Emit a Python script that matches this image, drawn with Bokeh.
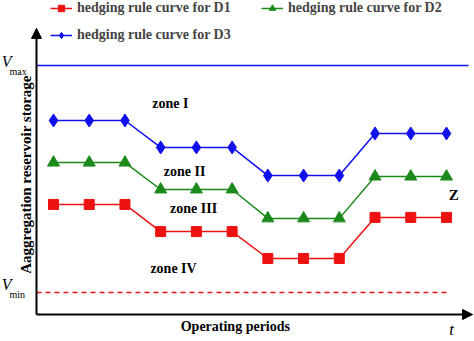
from bokeh.plotting import figure
from bokeh.models import Arrow, NormalHead, Legend, LegendItem, Range1d, Label
from bokeh.embed import file_html
from bokeh.resources import INLINE

# ---- data ----
periods = list(range(1, 13))
d1 = [44.2, 44.2, 44.2, 33.3, 33.3, 33.3, 22.5, 22.5, 22.5, 39.0, 39.0, 39.0]
d2 = [61.0, 61.0, 61.0, 50.2, 50.2, 50.2, 38.6, 38.6, 38.6, 55.4, 55.4, 55.4]
d3 = [77.9, 77.9, 77.9, 67.1, 67.1, 67.1, 55.8, 55.8, 55.8, 72.7, 72.7, 72.7]
v_max = 100.0
v_min = 8.8
series_names = ["hedging rule curve for D1", "hedging rule curve for D2", "hedging rule curve for D3"]
zone_names = ["zone I", "zone II", "zone III", "zone IV"]

RED = "#ee1111"
GREEN = "#1b8a1b"
BLUE = "#1010ee"
FONT = "Liberation Serif"

p = figure(width=474, height=341, output_backend="svg", toolbar_location=None,
           x_axis_type=None, y_axis_type=None, min_border=0,
           x_range=Range1d(-0.4835, 12.784), y_range=Range1d(-10.84, 126.1))
p.outline_line_color = None
p.grid.visible = False
p.background_fill_color = "white"
p.border_fill_color = "white"

# reference levels
p.line([0.524, 12.616], [v_max, v_max], line_color=BLUE, line_width=1.5)
p.line([0.524, 12.0], [v_min, v_min], line_color=RED, line_width=1.5, line_dash="5 4")

# curves
l1 = p.line(periods, d1, line_color=RED, line_width=1.5)
s1 = p.scatter(periods, d1, marker="square", size=10, color=RED)
l2 = p.line(periods, d2, line_color=GREEN, line_width=1.5)
s2 = p.scatter(periods, d2, marker="triangle", size=12, color=GREEN)
l3 = p.line(periods, d3, line_color=BLUE, line_width=1.5)
s3 = p.scatter(periods, d3, marker="diamond", size=13, color=BLUE)

# axes as arrows
p.add_layout(Arrow(x_start=0.524, y_start=0, x_end=0.524, y_end=114.9, line_width=2,
                   line_color="black", end=NormalHead(size=10, fill_color="black", line_color="black")))
p.add_layout(Arrow(x_start=0.524, y_start=0, x_end=12.73, y_end=0, line_width=2,
                   line_color="black", end=NormalHead(size=10, fill_color="black", line_color="black")))

def lab(x, y, text, size="14px", style="bold", align="center", baseline="middle", angle=0):
    p.add_layout(Label(x=x, y=y, text=text, text_font=FONT, text_font_size=size,
                       text_font_style=style, text_align=align, text_baseline=baseline,
                       angle=angle, text_color="black"))

lab(4.27, 84.7, zone_names[0])
lab(4.67, 57.4, zone_names[1])
lab(4.92, 42.6, zone_names[2])
lab(4.36, 18.5, zone_names[3])
lab(12.2, 47.8, "Z", size="15px")
lab(6.09, -4.8, "Operating periods")
lab(12.14, -6.0, "t", size="17px", style="italic")
lab(0.244, 56.2, "Aaggregation reservoir storage", size="15px", angle=1.5708)
lab(-0.315, 101.6, "V", size="16px", style="italic")
lab(-0.231, 97.6, "max", size="10px", style="normal", align="left")
lab(-0.315, 12.0, "V", size="16px", style="italic")
lab(-0.231, 8.0, "min", size="10px", style="normal", align="left")

# column-major fill: column 1 = D1, D3 ; column 2 = D2
legend = Legend(items=[LegendItem(label=series_names[0], renderers=[l1, s1]),
                       LegendItem(label=series_names[2], renderers=[l3, s3]),
                       LegendItem(label=series_names[1], renderers=[l2, s2])],
                location=(50, 298), ncols=2, padding=0, margin=0, spacing=11,
                glyph_width=22, glyph_height=16, label_height=16, label_width=173,
                label_standoff=5, border_line_color=None, background_fill_alpha=0,
                label_text_font=FONT, label_text_font_style="bold", label_text_font_size="14px")
p.add_layout(legend)

open("out.html", "w").write(file_html(p, INLINE))
